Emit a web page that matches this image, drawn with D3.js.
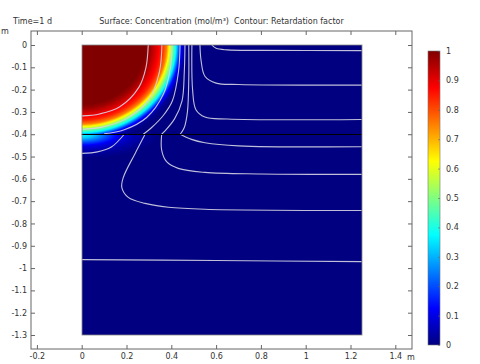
<!DOCTYPE html>
<meta charset="utf-8">
<style>
body { margin: 0; background: #fff; }
svg text { font-family: "DejaVu Sans", sans-serif; font-size: 8px; fill: #333; }
.axis .domain { display: none; }
.axis line { stroke: #666; }
.contour { fill: none; stroke: #d4d4e4; stroke-width: 1.1; stroke-opacity: 0.9; }
</style>
<svg width="480" height="364"></svg>
<script src="https://cdn.jsdelivr.net/npm/d3@7"></script>
<script>

// tick labels
var xTicks = [-0.2, 0, 0.2, 0.4, 0.6, 0.8, 1, 1.2, 1.4];
var yTicks = [0, -0.1, -0.2, -0.3, -0.4, -0.5, -0.6, -0.7, -0.8, -0.9, -1, -1.1, -1.2, -1.3];
var cbTicks = [0, 0.1, 0.2, 0.3, 0.4, 0.5, 0.6, 0.7, 0.8, 0.9, 1];

// concentration read along the top edge (upper layer, distance from the source corner)
var upperR = [0, 0.285, 0.305, 0.335, 0.36, 0.379, 0.391, 0.406, 0.421, 0.439, 0.461, 0.48];
var upperC = [1, 1, 0.97, 0.9, 0.84, 0.75, 0.62, 0.5, 0.37, 0.15, 0.02, 0];
// concentration below the layer boundary (scaled distance from the corner on the boundary)
var lowerS = [0, 0.05, 0.1, 0.17, 0.23, 0.29, 0.35];
var lowerC = [0.38, 0.33, 0.23, 0.1, 0.05, 0.02, 0];

var layerDepth = -0.4;

// retardation factor contour lines (m)
var contours = [
  [[0.297,0],[0.287,-0.10],[0.255,-0.19],[0.17,-0.277],[0.08,-0.309],[0,-0.318]],
  [[0.358,0],[0.347,-0.12],[0.30,-0.245],[0.20,-0.33],[0.09,-0.368],[0,-0.378]],
  [[0.403,0],[0.396,-0.10],[0.365,-0.22],[0.29,-0.325],[0.19,-0.38],[0.10,-0.398]],
  [[0.439,0],[0.432,-0.12],[0.405,-0.25],[0.365,-0.315],[0.31,-0.372],[0.275,-0.4]],
  [[0.461,0],[0.458,-0.12],[0.448,-0.25],[0.415,-0.33],[0.372,-0.385],[0.357,-0.4]],
  [[0.478,0],[0.478,-0.15],[0.472,-0.3],[0.458,-0.37],[0.44,-0.4]],
  [[0.492,0],[0.495,-0.2],[0.51,-0.29],[0.55,-0.323],[0.65,-0.332],[1.25,-0.334]],
  [[0.528,0],[0.533,-0.07],[0.55,-0.14],[0.6,-0.171],[0.7,-0.177],[1.25,-0.18]],
  [[0.581,0],[0.6,-0.015],[0.65,-0.022],[0.8,-0.024],[1.25,-0.025]],
  [[0.19,-0.4],[0.134,-0.456],[0.07,-0.479],[0,-0.486]],
  [[0.283,-0.4],[0.238,-0.487],[0.186,-0.593],[0.179,-0.638],[0.208,-0.683],[0.283,-0.710],[0.387,-0.727],[0.55,-0.736],[1.25,-0.742]],
  [[0.357,-0.4],[0.357,-0.471],[0.379,-0.523],[0.431,-0.553],[0.55,-0.571],[0.8,-0.578],[1.25,-0.58]],
  [[0.44,-0.4],[0.49,-0.423],[0.55,-0.438],[0.7,-0.452],[1.25,-0.456]],
  [[0,-0.962],[0.6,-0.966],[1.25,-0.971]]
];

var svg = d3.select("svg");

var x = d3.scaleLinear().domain([0, 1.25]).range([81.7, 361.7]);
var y = d3.scaleLinear().domain([0, -1.3]).range([45, 335]);

var jet = d3.scaleLinear()
    .domain([0, 0.125, 0.375, 0.625, 0.875, 1])
    .range(["#000080", "#0000ff", "#00ffff", "#ffff00", "#ff0000", "#800000"])
    .clamp(true);

var upper = d3.scaleLinear().domain(upperR).range(upperC).clamp(true);
var lower = d3.scaleLinear().domain(lowerS).range(lowerC).clamp(true);

function conc(px, py) {
  if (py >= layerDepth) {
    var r = Math.sqrt(px * px + (py * 1.07) * (py * 1.07));
    return upper(r);
  }
  var dz = (layerDepth - py) * 3.2;
  return lower(Math.sqrt(px * px + dz * dz));
}

// surface image
var x0 = Math.round(x(0)), x1 = Math.round(x(1.25)),
    y0 = Math.round(y(0)), y1 = Math.round(y(-1.3));
var w = x1 - x0, h = y1 - y0;
var canvas = document.createElement("canvas");
canvas.width = w; canvas.height = h;
var ctx = canvas.getContext("2d");
var img = ctx.createImageData(w, h);
for (var j = 0; j < h; j++) {
  var py = y.invert(y0 + j + 0.5);
  for (var i = 0; i < w; i++) {
    var px = x.invert(x0 + i + 0.5);
    var c = d3.rgb(jet(conc(px, py)));
    var k = (j * w + i) * 4;
    img.data[k] = c.r; img.data[k + 1] = c.g; img.data[k + 2] = c.b; img.data[k + 3] = 255;
  }
}
ctx.putImageData(img, 0, 0);

svg.append("image")
    .attr("x", x0).attr("y", y0)
    .attr("width", w).attr("height", h)
    .attr("preserveAspectRatio", "none")
    .attr("href", canvas.toDataURL());

svg.append("clipPath").attr("id", "clip")
  .append("rect")
    .attr("x", x0).attr("y", y0).attr("width", w).attr("height", h);

var line = d3.line()
    .x(function(d) { return x(d[0]); })
    .y(function(d) { return y(d[1]); })
    .curve(d3.curveCatmullRom);

svg.append("g")
    .attr("clip-path", "url(#clip)")
  .selectAll("path")
  .data(contours)
  .enter().append("path")
    .attr("class", "contour")
    .attr("d", line);

// layer boundary
var yl = Math.floor(y(layerDepth)) + 0.5;
svg.append("line")
    .attr("x1", x(0)).attr("x2", x(1.25))
    .attr("y1", yl).attr("y2", yl)
    .attr("stroke", "#000").attr("stroke-width", 1);

svg.append("rect")
    .attr("x", x0).attr("y", y0).attr("width", w).attr("height", h)
    .attr("fill", "none").attr("stroke", "#888").attr("stroke-width", 0.8);

// axes frame
var fl = 31, fr = 412, ft = 31, fb = 349;
svg.append("rect")
    .attr("x", fl).attr("y", ft).attr("width", fr - fl).attr("height", fb - ft)
    .attr("fill", "none").attr("stroke", "#666").attr("stroke-width", 1);

var fmt = function(d) { return String(+d.toFixed(2)); };

svg.append("g").attr("class", "axis")
    .attr("transform", "translate(0," + fb + ")")
    .call(d3.axisBottom(x).tickValues(xTicks).tickSize(-4).tickSizeOuter(0).tickPadding(4).tickFormat(fmt));

svg.append("g").attr("class", "axis")
    .attr("transform", "translate(0," + ft + ")")
    .call(d3.axisTop(x).tickValues(xTicks).tickSize(-4).tickSizeOuter(0).tickFormat(""));

svg.append("g").attr("class", "axis")
    .attr("transform", "translate(" + fl + ",0)")
    .call(d3.axisLeft(y).tickValues(yTicks).tickSize(-4).tickSizeOuter(0).tickPadding(4).tickFormat(fmt));

svg.append("g").attr("class", "axis")
    .attr("transform", "translate(" + fr + ",0)")
    .call(d3.axisRight(y).tickValues(yTicks).tickSize(-4).tickSizeOuter(0).tickFormat(""));

// unit labels
svg.append("text").attr("x", 407).attr("y", 359.5).text("m");
svg.append("text").attr("x", 1).attr("y", 33.5).text("m");

// titles
svg.append("text").attr("x", 13).attr("y", 23.5).text("Time=1 d");
svg.append("text")
    .attr("x", (fl + fr) / 2).attr("y", 24)
    .attr("text-anchor", "middle")
    .text("Surface: Concentration (mol/m\u00b3)\u00a0\u00a0Contour: Retardation factor");

// colour bar
var cb = d3.scaleLinear().domain([0, 1]).range([345, 51]);
var grad = svg.append("defs").append("linearGradient")
    .attr("id", "jetgrad")
    .attr("x1", 0).attr("y1", 1).attr("x2", 0).attr("y2", 0);
grad.selectAll("stop")
  .data(d3.range(0, 1.0001, 0.025))
  .enter().append("stop")
    .attr("offset", function(d) { return d; })
    .attr("stop-color", function(d) { return jet(d); });

svg.append("rect")
    .attr("x", 428).attr("y", cb(1)).attr("width", 12).attr("height", cb(0) - cb(1))
    .attr("fill", "url(#jetgrad)").attr("stroke", "#777").attr("stroke-width", 0.6);

svg.append("g").attr("class", "axis")
    .attr("transform", "translate(440,0)")
    .call(d3.axisRight(cb).tickValues(cbTicks).tickSize(-2).tickSizeOuter(0).tickPadding(6).tickFormat(fmt))
    .call(function(g) {
      g.selectAll("line").attr("stroke", "#333").attr("stroke-opacity", 0.6);
    });

</script>
